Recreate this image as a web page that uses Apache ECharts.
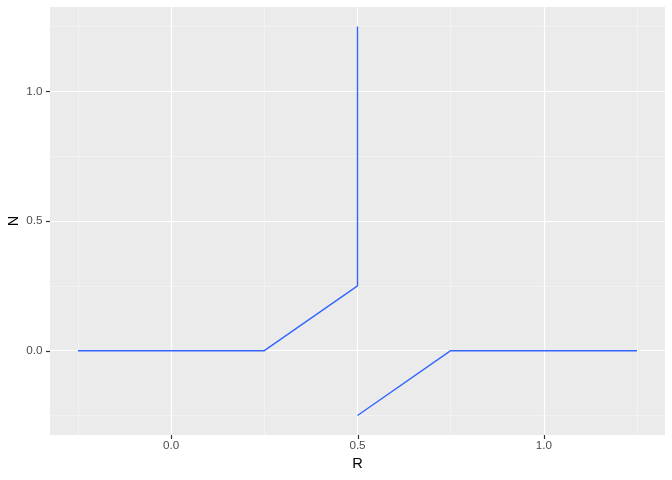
<!DOCTYPE html>
<html><head><meta charset="utf-8">
<script src="https://cdn.jsdelivr.net/npm/echarts@6/dist/echarts.min.js"></script>
<style>html,body{margin:0;padding:0;background:#fff}#c{width:672px;height:480px}</style>
</head><body><div id="c"></div>
<script>
// Data
const rValues = [-0.25, 0.25, 0.5, 0.5, null, 0.5, 0.75, 1.25];
const nValues = [0, 0, 0.25, 1.25, null, -0.25, 0, 0];
const xMajorTicks = [0, 0.5, 1.0];
const yMajorTicks = [0, 0.5, 1.0];
const xMinorTicks = [-0.25, 0.25, 0.75, 1.25];
const yMinorTicks = [-0.25, 0.25, 0.75, 1.25];
const xLimits = [-0.325, 1.325];
const yLimits = [-0.325, 1.325];

const lineData = rValues.map((r, i) => (r === null ? '-' : [r, nValues[i]]));

const gridLines = [];
xMinorTicks.forEach(v => gridLines.push({xAxis: v, lineStyle: {type: 'solid', width: 0.6, color: '#F7F7F7'}}));
yMinorTicks.forEach(v => gridLines.push({yAxis: v, lineStyle: {type: 'solid', width: 0.6, color: '#F7F7F7'}}));
xMajorTicks.forEach(v => gridLines.push({xAxis: v, lineStyle: {type: 'solid', width: 1.2, color: '#FFFFFF'}}));
yMajorTicks.forEach(v => gridLines.push({yAxis: v, lineStyle: {type: 'solid', width: 1.2, color: '#FFFFFF'}}));

const TICK_LEN = 4;
const tickStyle = {stroke: '#333333', lineWidth: 1.2};

const font = 'Liberation Sans, Arial, sans-serif';
const chart = echarts.init(document.getElementById('c'), null, {renderer: 'canvas'});
chart.setOption({
  animation: false,
  backgroundColor: '#FFFFFF',
  grid: {left: 50, right: 7, top: 7, bottom: 45, show: true, backgroundColor: '#EBEBEB', borderWidth: 0,
         containLabel: false, outerBoundsMode: 'none'},
  xAxis: {
    type: 'value', min: xLimits[0], max: xLimits[1],
    name: 'R', nameLocation: 'middle', nameGap: 21, nameMoveOverlap: false,
    nameTextStyle: {color: '#000', fontSize: 14.6, fontFamily: font},
    axisLine: {show: true, onZero: false, lineStyle: {color: 'rgba(0,0,0,0)'}},
    splitLine: {show: false},
    axisTick: {show: false},
    axisLabel: {customValues: xMajorTicks, formatter: v => v.toFixed(1), color: '#4D4D4D', fontSize: 11.7, margin: 5, fontFamily: font}
  },
  yAxis: {
    type: 'value', min: yLimits[0], max: yLimits[1],
    name: 'N', nameLocation: 'middle', nameGap: 29, nameRotate: 90, nameMoveOverlap: false,
    nameTextStyle: {color: '#000', fontSize: 14.6, fontFamily: font},
    axisLine: {show: true, onZero: false, lineStyle: {color: 'rgba(0,0,0,0)'}},
    splitLine: {show: false},
    axisTick: {show: false},
    axisLabel: {customValues: yMajorTicks, formatter: v => v.toFixed(1), color: '#4D4D4D', fontSize: 11.7, margin: 7.5, fontFamily: font}
  },
  series: [
    {
      type: 'line', data: [], z: 1, silent: true,
      markLine: {silent: true, symbol: 'none', label: {show: false}, animation: false, data: gridLines}
    },
    {
      type: 'line', data: lineData, z: 5, showSymbol: false, connectNulls: false,
      lineStyle: {color: '#3366FF', width: 1.4}
    },
    {
      type: 'custom', clip: false, silent: true, z: 6,
      data: xMajorTicks.map(v => [v, yLimits[0]]),
      renderItem: (params, api) => {
        const p = api.coord([api.value(0), api.value(1)]);
        const x = Math.round(p[0]) + 0.5;
        return {type: 'line', shape: {x1: x, y1: p[1], x2: x, y2: p[1] + TICK_LEN}, style: tickStyle};
      }
    },
    {
      type: 'custom', clip: false, silent: true, z: 6,
      data: yMajorTicks.map(v => [xLimits[0], v]),
      renderItem: (params, api) => {
        const p = api.coord([api.value(0), api.value(1)]);
        const y = Math.round(p[1]) + 0.5;
        return {type: 'line', shape: {x1: p[0], y1: y, x2: p[0] - TICK_LEN, y2: y}, style: tickStyle};
      }
    }
  ]
});
</script>
</body></html>
